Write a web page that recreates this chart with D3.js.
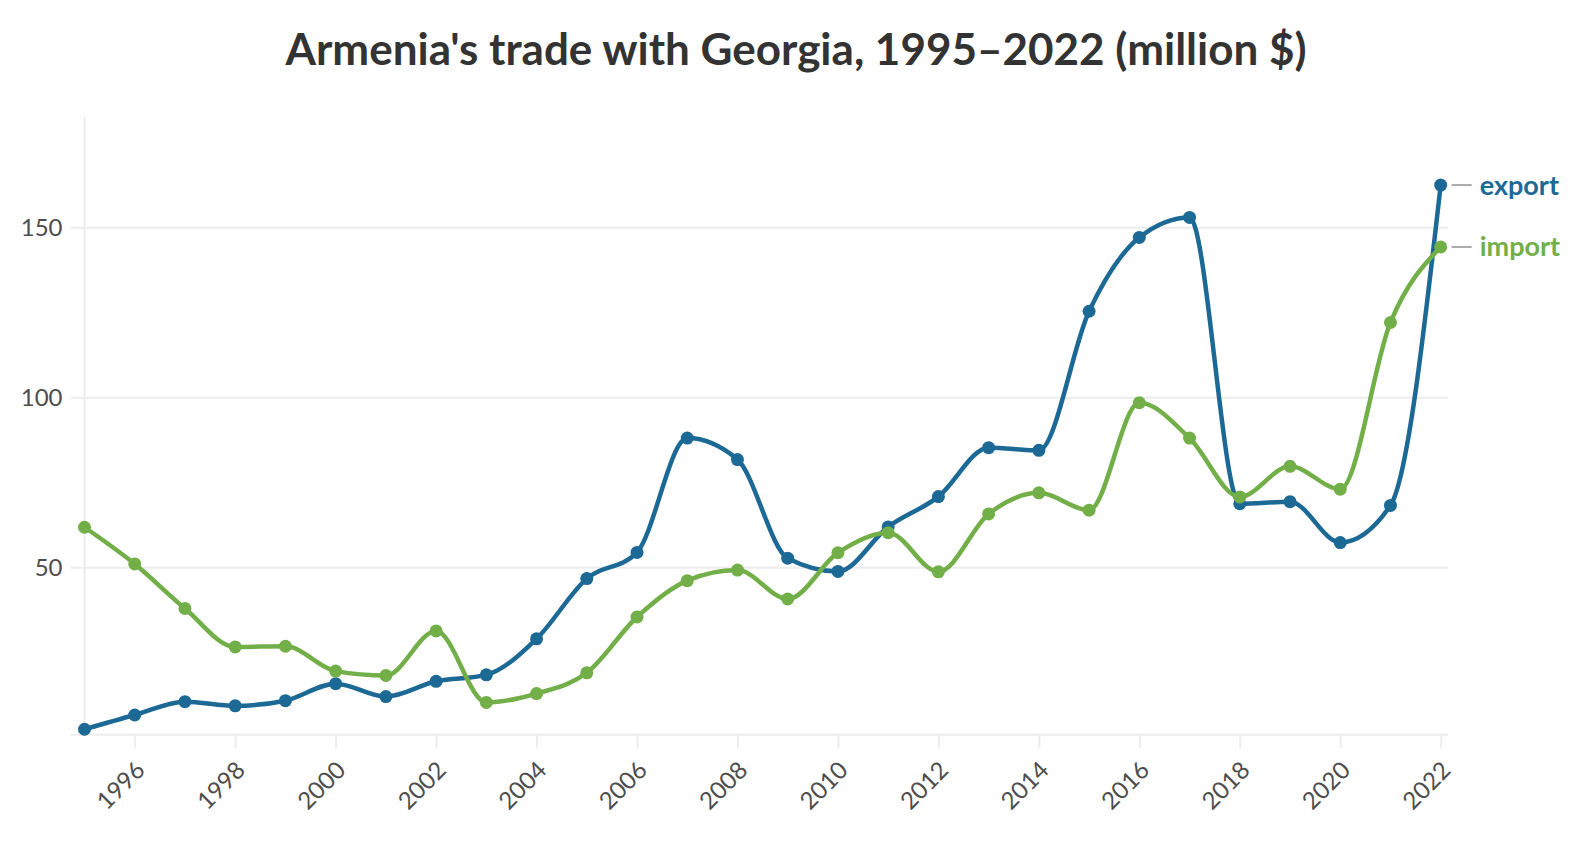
<!DOCTYPE html>
<html>
<head>
<meta charset="utf-8">
<script src="https://cdn.jsdelivr.net/npm/d3@7"></script>
<style>
  body { margin: 0; background: #fff; }
  svg { display: block; font-family: Lato, "Noto Sans", sans-serif; }
  .title { font-weight: 700; fill: #333; }
  .axis text { fill: #4d4d4d; font-size: 24px; font-family: Lato, "Noto Sans", sans-serif; }
  .axis line { stroke: #ececec; stroke-width: 2px; }
  .axis .domain { display: none; }
</style>
</head>
<body>
<div id="chart"></div>
<script>
var width = 1592,
    height = 842;

// Armenia - Georgia trade, million $
var years = [1995, 1996, 1997, 1998, 1999, 2000, 2001, 2002, 2003, 2004,
  2005, 2006, 2007, 2008, 2009, 2010, 2011, 2012, 2013, 2014,
  2015, 2016, 2017, 2018, 2019, 2020, 2021, 2022];

var exportValues = [2.4, 6.6, 10.5, 9.3, 10.8, 15.8, 12.0, 16.5, 18.4, 29.0,
  46.7, 54.4, 88.0, 81.7, 52.7, 48.8, 61.9, 70.8, 85.2, 84.4,
  125.3, 147.0, 152.9, 68.7, 69.3, 57.3, 68.2, 162.4];

var importValues = [61.8, 51.0, 37.9, 26.6, 26.8, 19.5, 18.2, 31.3, 10.3, 12.9,
  19.0, 35.4, 46.1, 49.2, 40.7, 54.3, 60.2, 48.7, 65.7, 71.9,
  66.8, 98.4, 88.0, 70.7, 79.7, 73.0, 122.0, 144.2];

var seriesNames = ["export", "import"];
var seriesColors = {"export": "#1D6996", "import": "#73AF48"};

var yTicks = [50, 100, 150];
var xTicks = [1996, 1998, 2000, 2002, 2004, 2006, 2008, 2010, 2012, 2014,
  2016, 2018, 2020, 2022];

var plotLeft = 84.5, plotRight = 1440.7, plotTop = 116.7, plotBottom = 734.7;
var gridLeft = 71, gridRight = 1448;

var svg = d3.select("#chart").append("svg")
    .attr("width", width)
    .attr("height", height);

var x = d3.scaleLinear()
    .domain([1995, 2022])
    .range([plotLeft, plotRight]);

var y = d3.scaleLinear()
    .domain([0.8, 182.5])
    .range([plotBottom, plotTop]);

/* Title */
svg.append("text")
  .attr("class", "title")
  .attr("x", width / 2)
  .attr("y", 65)
  .attr("text-anchor", "middle")
  .style("font-size", "44px")
  .text("Armenia's trade with Georgia, 1995\u20132022 (million $)");

/* Axes */
svg.append("g")
  .attr("class", "axis y-axis")
  .attr("transform", "translate(" + gridLeft + ",0)")
  .call(d3.axisLeft(y)
    .tickValues(yTicks)
    .tickSize(-(gridRight - gridLeft))
    .tickPadding(8.5))
  .selectAll("text")
  .attr("dy", "0.35em");

var xAxis = svg.append("g")
  .attr("class", "axis x-axis")
  .attr("transform", "translate(0," + plotBottom + ")")
  .call(d3.axisBottom(x)
    .tickValues(xTicks)
    .tickFormat(d3.format("d"))
    .tickSize(13.5));

xAxis.selectAll("text")
  .attr("text-anchor", "end")
  .attr("dy", null)
  .attr("y", null)
  .attr("transform", "translate(11,37) rotate(-45)");

// baseline and vertical axis line
svg.append("line")
  .attr("x1", gridLeft).attr("x2", gridRight)
  .attr("y1", plotBottom).attr("y2", plotBottom)
  .attr("stroke", "#ececec").attr("stroke-width", 2);

svg.append("line")
  .attr("x1", plotLeft).attr("x2", plotLeft)
  .attr("y1", plotTop).attr("y2", plotBottom)
  .attr("stroke", "#ececec").attr("stroke-width", 2);

/* Lines */
var series = seriesNames.map(function(name) {
  var vals = name == "export" ? exportValues : importValues;
  return {
    name: name,
    values: years.map(function(yr, i) { return {year: yr, value: vals[i]}; })
  };
});

var line = d3.line()
  .x(function(d) { return x(d.year); })
  .y(function(d) { return y(d.value); })
  .curve(d3.curveMonotoneX);

var groups = svg.selectAll(".series")
  .data(series)
  .enter()
  .append("g")
  .attr("class", "series");

groups.append("path")
  .attr("d", function(d) { return line(d.values); })
  .attr("fill", "none")
  .attr("stroke", function(d) { return seriesColors[d.name]; })
  .attr("stroke-width", 4.5)
  .attr("stroke-linejoin", "round");

groups.selectAll("circle")
  .data(function(d) { return d.values.map(function(v) { v.name = d.name; return v; }); })
  .enter()
  .append("circle")
  .attr("cx", function(d) { return x(d.year); })
  .attr("cy", function(d) { return y(d.value); })
  .attr("r", 6.5)
  .attr("fill", function(d) { return seriesColors[d.name]; });

/* Labels at line ends */
groups.each(function(d) {
  var last = d.values[d.values.length - 1];
  var g = d3.select(this);
  g.append("line")
    .attr("x1", x(last.year) + 11)
    .attr("x2", x(last.year) + 31)
    .attr("y1", y(last.value))
    .attr("y2", y(last.value))
    .attr("stroke", "#aaa")
    .attr("stroke-width", 2);
  g.append("text")
    .attr("x", x(last.year) + 39)
    .attr("y", y(last.value))
    .attr("dy", "0.35em")
    .attr("fill", seriesColors[d.name])
    .style("font-size", "27px")
    .style("font-weight", 700)
    .text(d.name);
});
</script>
</body>
</html>
